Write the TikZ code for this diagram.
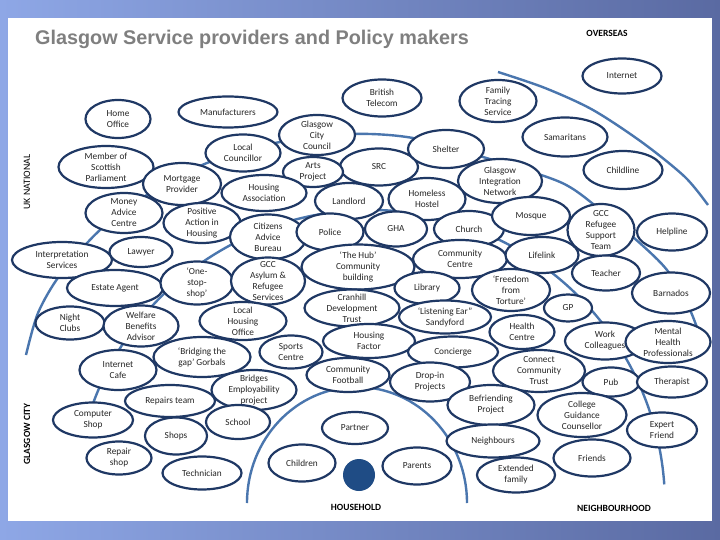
\documentclass[tikz,border=0pt]{standalone}
\usepackage{fontspec}
\setmainfont{Carlito}
\newfontfamily\titlefont{Liberation Sans}
\usetikzlibrary{shapes.geometric}
\usetikzlibrary{positioning}
\definecolor{navy}{HTML}{1F3864}
\definecolor{ringblue}{HTML}{4A76AE}
\definecolor{titlegray}{HTML}{7F7F7F}
\definecolor{dotblue}{HTML}{1F4C85}
\definecolor{frameA}{HTML}{8EA7E6}
\definecolor{frameB}{HTML}{5A6AA2}
\tikzset{
bubble/.style 2 args={
	ellipse, draw=navy, line width=2.2pt, fill=white,
	inner xsep=-4pt, inner ysep=-6pt,
	minimum width=#1, minimum height=#2,
	align=center, text=black!85,
	font=\fontsize{9.3}{11}\selectfont
},
ring/.style={draw=ringblue, line width=2.4pt},
zone/.style={font=\fontsize{9.5}{11}\selectfont\bfseries, inner sep=0pt},
}

\begin{document}
\begin{tikzpicture}[x=1pt, y=-1pt]
\useasboundingbox (0,0) rectangle (720,540);
%Frame and title
\shade[left color=frameA, right color=frameB] (0,0) rectangle (720,540);
\fill[white] (8,18) rectangle (712,521);
\node[anchor=base west, inner sep=0pt, text=titlegray,
	font=\titlefont\bfseries\fontsize{19.8}{22}\selectfont] (title) at (35,45)
	{Glasgow Service providers and Policy makers};

%Boundaries between the zones
\draw[ring] plot[smooth] coordinates {(498,72) (545,88) (593,110) (643,143) (685,177) (708,205)};
\draw[ring] plot[smooth] coordinates {(26,355) (38,313) (60,275) (100,230) (150,193) (207,163)
	(280,142) (353,134) (413,138) (483,157) (560,182) (597,207) (633,237) (667,270) (690,310) (703,345)};
\draw[ring] (370,505) ++(200:295) arc[start angle=200, end angle=356, radius=295];
\draw[ring] (357,503) ++(180:110) arc[start angle=180, end angle=360, x radius=110, y radius=116];

%Place the nodes
\node[bubble={65}{38}] (homeOffice) at (118,119) {Home\\Office};
\node[bubble={99}{31}] (manuf) at (228,112) {Manufacturers};
\node[bubble={79}{37}] (britTel) at (382,98) {British\\Telecom};
\node[bubble={77}{42}] (tracing) at (498,101) {Family\\Tracing\\Service};
\node[bubble={79}{35}] (internet) at (622,76) {Internet};
\node[bubble={76}{40}] (cityCouncil) at (317,135) {Glasgow\\City\\Council};
\node[bubble={75}{37}] (councillor) at (243,153) {Local\\Councillor};
\node[bubble={95}{42}] (msp) at (106,167) {Member of\\Scottish\\Parliament};
\node[bubble={78}{37}] (src) at (379,167) {SRC};
\node[bubble={60}{30}] (arts) at (313,172) {Arts\\Project};
\node[bubble={76}{38}] (shelter) at (446,149) {Shelter};
\node[bubble={85}{39}] (samaritans) at (565,137) {Samaritans};
\node[bubble={79}{38}] (childline) at (623,170) {Childline};
\node[bubble={84}{44}] (integration) at (500,181) {Glasgow\\Integration\\Network};
\node[bubble={78}{42}] (mortgage) at (182,184) {Mortgage\\Provider};
\node[bubble={85}{36}] (housingAssoc) at (264,193) {Housing\\Association};
\node[bubble={68}{36}] (landlord) at (349,201) {Landlord};
\node[bubble={77}{42}] (hostel) at (427,199) {Homeless\\Hostel};
\node[bubble={77}{40}] (moneyAdvice) at (124,213) {Money\\Advice\\Centre};
\node[bubble={77}{40}] (positive) at (202,223) {Positive\\Action in\\Housing};
\node[bubble={76}{45}] (cab) at (268,237) {Citizens\\Advice\\Bureau};
\node[bubble={67}{37}] (police) at (330,232) {Police};
\node[bubble={62}{35}] (gha) at (396,229) {GHA};
\node[bubble={70}{36}] (church) at (469,229) {Church};
\node[bubble={78}{38}] (mosque) at (531,216) {Mosque};
\node[bubble={67}{52}] (gccRefugee) at (601,230) {GCC\\Refugee\\Support\\Team};
\node[bubble={70}{37}] (helpline) at (672,232) {Helpline};
\node[bubble={100}{36}] (interp) at (62,260) {Interpretation\\Services};
\node[bubble={63}{30}] (lawyer) at (141,252) {Lawyer};
\node[bubble={113}{45}] (hub) at (358,267) {`The Hub'\\Community\\building};
\node[bubble={94}{38}] (commCentre) at (460,259) {Community\\Centre};
\node[bubble={73}{36}] (lifelink) at (542,255) {Lifelink};
\node[bubble={68}{35}] (teacher) at (606,273) {Teacher};
\node[bubble={78}{41}] (barnados) at (671,293) {Barnados};
\node[bubble={96}{36}] (estate) at (115,288) {Estate Agent};
\node[bubble={73}{43}] (oneStop) at (197,283) {`One-\\stop-\\shop'};
\node[bubble={74}{47}] (asylum) at (268,281) {GCC\\Asylum \&\\Refugee\\Services};
\node[bubble={65}{32}] (library) at (427,288) {Library};
\node[bubble={78}{42}] (torture) at (511,290) {`Freedom\\from\\Torture'};
\node[bubble={48}{27}] (gp) at (568,308) {GP};
\node[bubble={69}{33}] (nightClubs) at (70,323) {Night\\Clubs};
\node[bubble={75}{41}] (welfare) at (141,326) {Welfare\\Benefits\\Advisor};
\node[bubble={87}{38}] (housingOffice) at (243,321) {Local\\Housing\\Office};
\node[bubble={95}{37}] (cranhill) at (352,308) {Cranhill\\Development\\Trust};
\node[bubble={92}{33}] (listening) at (445,317) {`Listening Ear''\\Sandyford};
\node[bubble={65}{34}] (healthCentre) at (522,332) {Health\\Centre};
\node[bubble={80}{37}] (colleagues) at (605,341) {Work\\Colleagues};
\node[bubble={85}{42}] (mental) at (668,342) {Mental\\Health\\Professionals};
\node[bubble={97}{40}] (bridging) at (202,357) {`Bridging the\\gap' Gorbals};
\node[bubble={63}{33}] (sports) at (291,352) {Sports\\Centre};
\node[bubble={92}{34}] (factor) at (369,341) {Housing\\Factor};
\node[bubble={90}{31}] (concierge) at (453,352) {Concierge};
\node[bubble={92}{42}] (connect) at (539,371) {Connect\\Community\\Trust};
\node[bubble={77}{40}] (cafe) at (118,370) {Internet\\Cafe};
\node[bubble={85}{40}] (bridges) at (254,390) {Bridges\\Employability\\project};
\node[bubble={83}{34}] (football) at (348,375) {Community\\Football};
\node[bubble={80}{39}] (dropIn) at (430,382) {Drop-in\\Projects};
\node[bubble={57}{29}] (pub) at (611,382) {Pub};
\node[bubble={70}{31}] (therapist) at (672,382) {Therapist};
\node[bubble={90}{32}] (repairsTeam) at (170,401) {Repairs team};
\node[bubble={80}{35}] (computerShop) at (93,420) {Computer\\Shop};
\node[bubble={64}{34}] (school) at (238,422) {School};
\node[bubble={62}{37}] (shops) at (176,436) {Shops};
\node[bubble={87}{40}] (befriending) at (491,405) {Befriending\\Project};
\node[bubble={89}{44}] (college) at (582,415) {College\\Guidance\\Counsellor};
\node[bubble={70}{35}] (expert) at (662,430) {Expert\\Friend};
\node[bubble={65}{33}] (repairShop) at (119,458) {Repair\\shop};
\node[bubble={79}{33}] (technician) at (202,473) {Technician};
\node[bubble={66}{32}] (partner) at (355,428) {Partner};
\node[bubble={67}{37}] (children) at (302,463) {Children};
\node[bubble={69}{37}] (parents) at (417,466) {Parents};
\node[bubble={93}{33}] (neighbours) at (493,441) {Neighbours};
\node[bubble={78}{35}] (extended) at (516,475) {Extended\\family};
\node[bubble={77}{37}] (friends) at (592,458) {Friends};
\node[circle, fill=dotblue, minimum size=32pt, inner sep=0pt] (self) at (359,475) {};

%Zone names
\node[zone] (overseas) at (607,33) {OVERSEAS};
\node[zone, font=\fontsize{9.8}{11}\selectfont, rotate=90] (ukNational) at (27,182) {UK NATIONAL};
\node[zone, rotate=90] (glasgowCity) at (27,434) {GLASGOW CITY};
\node[zone] (household) at (356,507) {HOUSEHOLD};
\node[zone] (neighbourhood) at (614,508) {NEIGHBOURHOOD};
\end{tikzpicture}
\end{document}
